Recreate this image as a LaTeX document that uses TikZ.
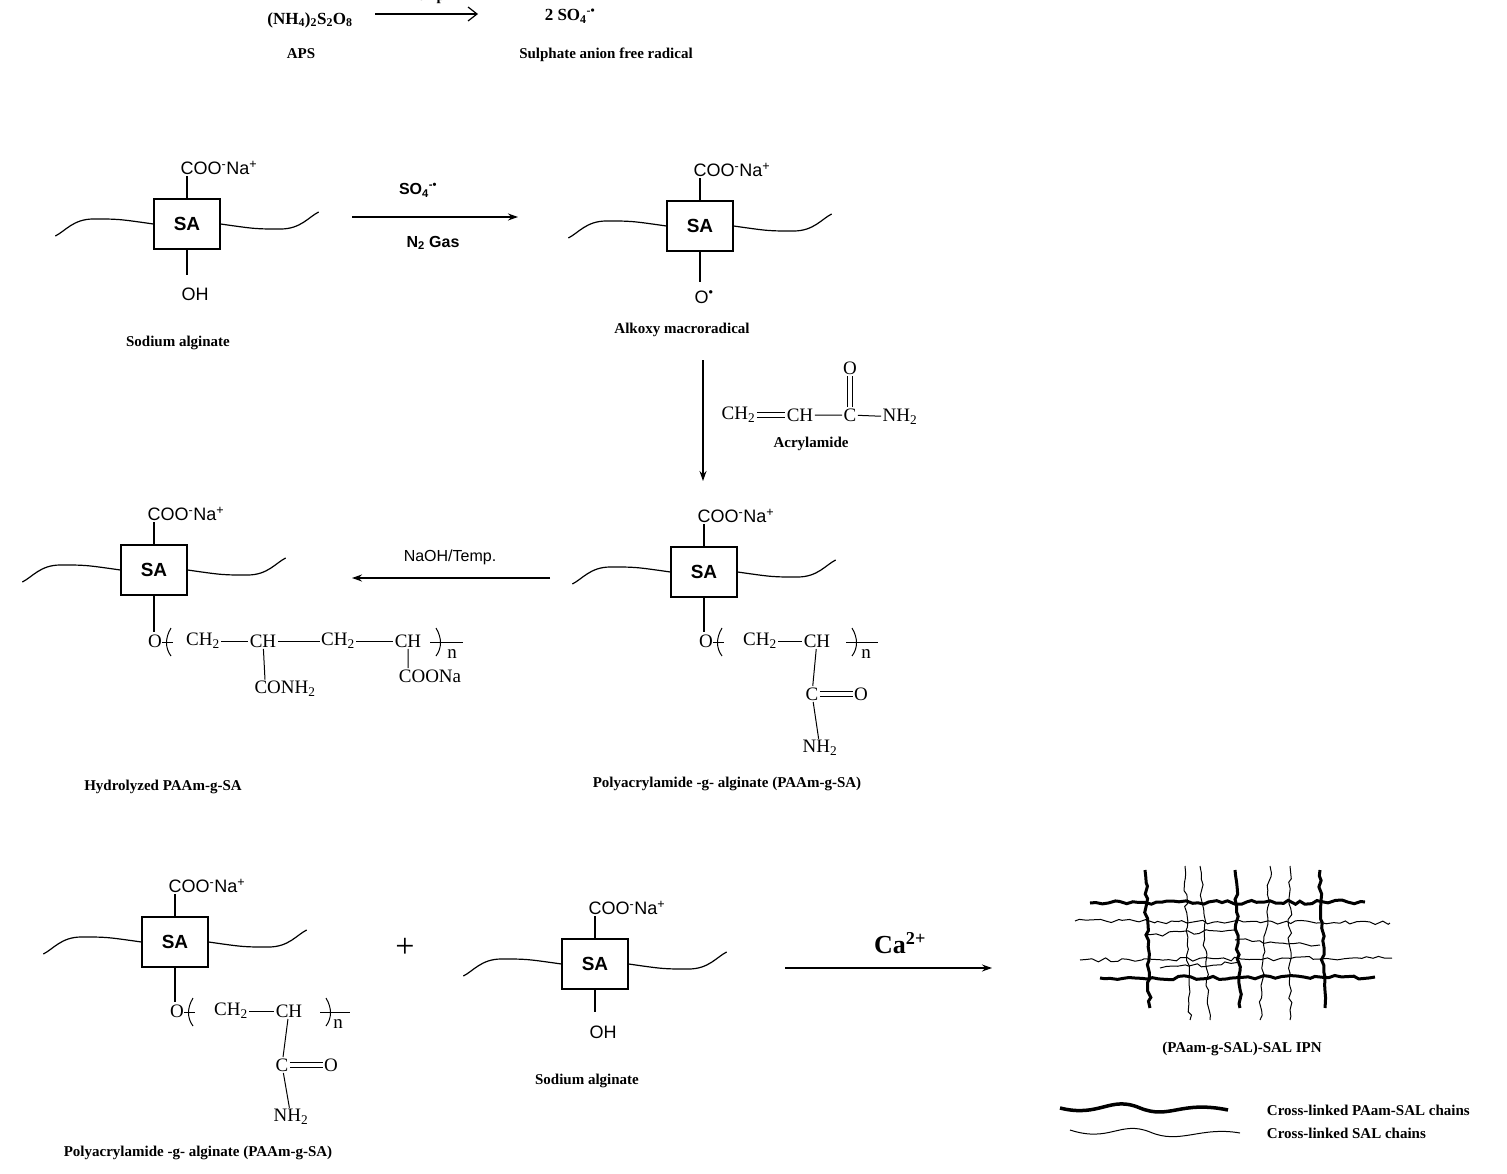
\documentclass[tikz,border=0pt]{standalone}
\usepackage{fontspec}
\setmainfont{Liberation Serif}
\newfontfamily\sansf{Liberation Sans}
\usetikzlibrary{decorations.pathmorphing,arrows.meta}
\begin{document}
\begin{tikzpicture}[x=1pt,y=-1pt,line width=1.2pt,
 lab/.style={font=\fontsize{15}{17}\selectfont\bfseries},
 grp/.style={font=\sansf\fontsize{18}{20}\selectfont,inner sep=1pt},
 ch/.style={font=\fontsize{19}{21}\selectfont,inner sep=1pt},
 box/.style={draw,minimum width=66pt,minimum height=50pt,font=\sansf\bfseries\fontsize{19}{21}\selectfont,line width=1.3pt},
 arr/.style={-{Stealth[length=10pt,width=7pt]},line width=1.3pt},
 thk/.style={line width=3pt,decorate,decoration={random steps,segment length=6pt,amplitude=2pt}},
 thn/.style={line width=1pt,decorate,decoration={random steps,segment length=6pt,amplitude=2pt}}]
\useasboundingbox (0,0) rectangle (1507,1174);
\newcommand\saunit[3]{%
 \node[box] (#1) at (#2,#3) {SA};
 \draw (#1.west) .. controls ++(-35,-5) and ++(25,0) .. ++(-60,-5) .. controls ++(-20,0) and ++(10,-5) .. ++(-38,17);
 \draw (#1.east) .. controls ++(35,5) and ++(-25,0) .. ++(60,5) .. controls ++(20,0) and ++(-10,5) .. ++(38,-17);
 \draw (#1.north) -- ++(0,-22) coordinate (#1up);
 \node[grp,anchor=south west] (#1coo) at ([xshift=-8pt]#1up) {COO\textsuperscript{-}Na\textsuperscript{+}};}
\newcommand\obrk[2]{%
 \draw[line width=1pt] (#1+7,#2+1) -- (#1+18,#2+1);
 \draw[line width=1pt] (#1+16,#2-13) .. controls (#1+10,#2-3) and (#1+10,#2+7) .. (#1+16,#2+15);}
% top reaction
\node[font=\bfseries\fontsize{17}{19}\selectfont] (aps) at (310,20) {(NH\textsubscript{4})\textsubscript{2}S\textsubscript{2}O\textsubscript{8}};
\node[font=\bfseries\fontsize{17}{19}\selectfont] (so4) at (570,16) {2 SO\textsubscript{4}\textsuperscript{-\textbullet}};
\draw[-{Straight Barb[length=9pt,width=14pt]},line width=1.2pt] (375,14) -- (478,14);
\node[lab] (temp) at (427,-3) {Temp};
\node[lab] (apsl) at (301,54) {APS};
\node[lab] (sal) at (606,55) {Sulphate anion free radical};
% unit 1
\saunit{u1}{187}{224}
\draw (u1.south) -- ++(0,25);
\node[grp] (oh1) at (195,294) {OH};
\node[lab] at (178,343) {Sodium alginate};
\draw[arr] (352,217) -- (518,217);
\node[grp,font=\sansf\bfseries\fontsize{16}{18}\selectfont] at (418,190) {SO\textsubscript{4}\textsuperscript{-\textbullet}};
\node[grp,font=\sansf\bfseries\fontsize{16}{18}\selectfont] at (433,243) {N\textsubscript{2} Gas};
% unit 2
\saunit{u2}{700}{226}
\draw (u2.south) -- ++(0,30);
\node[grp] (o2) at (704,297) {O\textsuperscript{\textbullet}};
\node[lab] at (682,330) {Alkoxy macroradical};
\draw[arr] (703,360) -- (703,481);
% acrylamide
\node[ch,anchor=west] (a1) at (720,415) {CH\textsubscript{2}};
\node[ch] (a2) at (800,415) {CH};
\node[ch] (a3) at (850,415) {C};
\node[ch] (a4) at (900,417) {NH\textsubscript{2}};
\node[ch] (a5) at (850,368) {O};
\draw[line width=1pt] ([yshift=-2.5pt]a1.east) -- ([yshift=-2.5pt]a2.west) ([yshift=2.5pt]a1.east) -- ([yshift=2.5pt]a2.west);
\draw[line width=1pt] (a2) -- (a3) (a3) -- (a4);
\draw[line width=1pt] ([xshift=-2.5pt]a3.north) -- ([xshift=-2.5pt]a5.south) ([xshift=2.5pt]a3.north) -- ([xshift=2.5pt]a5.south);
\node[lab] at (811,444) {Acrylamide};
% unit 4
\saunit{u4}{704}{572}
\draw (u4.south) -- (704,632);
\node[ch] (o4) at (706,641) {O};
\obrk{706}{641}
\node[ch] (c41) at (760,641) {CH\textsubscript{2}};
\node[ch] (c42) at (817,641) {CH};
\draw[line width=1pt] (c41) -- (c42);
\draw[line width=1pt] (852,628) .. controls (858,638) and (858,648) .. (852,656);
\draw[line width=1pt] (846,642) -- (878,642);
\node[ch] at (866,654) {n};
\node[ch] (c43) at (812,694) {C};
\node[ch] (c44) at (861,694) {O};
\node[ch] (c45) at (820,748) {NH\textsubscript{2}};
\draw[line width=1pt] (c42) -- (c43) (c43) -- (c45);
\draw[line width=1pt] ([yshift=-2.5pt]c43.east) -- ([yshift=-2.5pt]c44.west) ([yshift=2.5pt]c43.east) -- ([yshift=2.5pt]c44.west);
\node[lab] at (727,784) {Polyacrylamide -g- alginate (PAAm-g-SA)};
\draw[arr] (550,578) -- (352,578);
\node[grp,font=\sansf\fontsize{16}{18}\selectfont] at (450,557) {NaOH/Temp.};
% unit 3
\saunit{u3}{154}{570}
\draw (u3.south) -- (154,632);
\node[ch] (o3) at (155,641) {O};
\obrk{155}{641}
\node[ch] (c31) at (203,641) {CH\textsubscript{2}};
\node[ch] (c32) at (263,641) {CH};
\node[ch] (c33) at (338,641) {CH\textsubscript{2}};
\node[ch] (c34) at (408,641) {CH};
\draw[line width=1pt] (c31) -- (c32) (c32) -- (c33) (c33) -- (c34);
\draw[line width=1pt] (436,628) .. controls (442,638) and (442,648) .. (436,656);
\draw[line width=1pt] (430,642) -- (463,642);
\node[ch] at (452,654) {n};
\node[ch] (c35) at (285,689) {CONH\textsubscript{2}};
\node[ch] (c36) at (430,676) {COONa};
\draw[line width=1pt] (c32) -- ([xshift=-20pt]c35.north) (c34) -- ([xshift=-22pt]c36.north);
\node[lab] at (163,787) {Hydrolyzed PAAm-g-SA};
% unit 5
\saunit{u5}{175}{942}
\draw (u5.south) -- (175,1002);
\node[ch] (o5) at (177,1011) {O};
\obrk{177}{1011}
\node[ch] (c51) at (231,1011) {CH\textsubscript{2}};
\node[ch] (c52) at (289,1011) {CH};
\draw[line width=1pt] (c51) -- (c52);
\draw[line width=1pt] (326,998) .. controls (332,1008) and (332,1018) .. (326,1026);
\draw[line width=1pt] (320,1012) -- (350,1012);
\node[ch] at (338,1024) {n};
\node[ch] (c53) at (282,1065) {C};
\node[ch] (c54) at (331,1065) {O};
\node[ch] (c55) at (291,1117) {NH\textsubscript{2}};
\draw[line width=1pt] (c52) -- (c53) (c53) -- (c55);
\draw[line width=1pt] ([yshift=-2.5pt]c53.east) -- ([yshift=-2.5pt]c54.west) ([yshift=2.5pt]c53.east) -- ([yshift=2.5pt]c54.west);
\node[lab] at (198,1153) {Polyacrylamide -g- alginate (PAAm-g-SA)};
\node[font=\fontsize{34}{36}\selectfont] (plus) at (405,948) {+};
% unit 6
\saunit{u6}{595}{964}
\draw (u6.south) -- ++(0,22);
\node[grp] (oh6) at (603,1032) {OH};
\node[lab] at (587,1081) {Sodium alginate};
\draw[arr] (785,968) -- (992,968);
\node[font=\bfseries\fontsize{26}{28}\selectfont] at (900,943) {Ca\textsuperscript{2+}};
% network
\pgfmathsetseed{7}
\draw[thk] (1090,903) -- (1365,902);
\draw[thk] (1100,978) -- (1375,977);
\draw[thn] (1075,921) -- (1390,923);
\draw[thn] (1080,960) -- (1392,958);
\foreach \x in {1145,1235,1320}{\draw[thk] (\x,870) -- (\x+5,1008);}
\foreach \x/\d in {1185/5,1270/-10,1200/10,1290/0}{\draw[thn] (\x,866) -- (\x+\d,1020);}
\draw[thn] (1145,935) -- (1235,930) (1235,940) -- (1320,945) (1160,968) -- (1240,962);
\node[lab,font=\bfseries\fontsize{15}{17}\selectfont] at (1242,1049) {(PAam-g-SAL)-SAL IPN};
\draw[line width=3.5pt] (1060,1108) .. controls (1100,1118) and (1110,1095) .. (1140,1108) .. controls (1170,1120) and (1180,1100) .. (1228,1110);
\draw[line width=1pt] (1070,1130) .. controls (1110,1143) and (1120,1120) .. (1150,1132) .. controls (1180,1145) and (1200,1126) .. (1240,1133);
\node[lab,anchor=west,font=\bfseries\fontsize{15}{17}\selectfont] at (1263,1110) {Cross-linked PAam-SAL chains};
\node[lab,anchor=west,font=\bfseries\fontsize{15}{17}\selectfont] at (1263,1133) {Cross-linked SAL chains};
\end{tikzpicture}
\end{document}
